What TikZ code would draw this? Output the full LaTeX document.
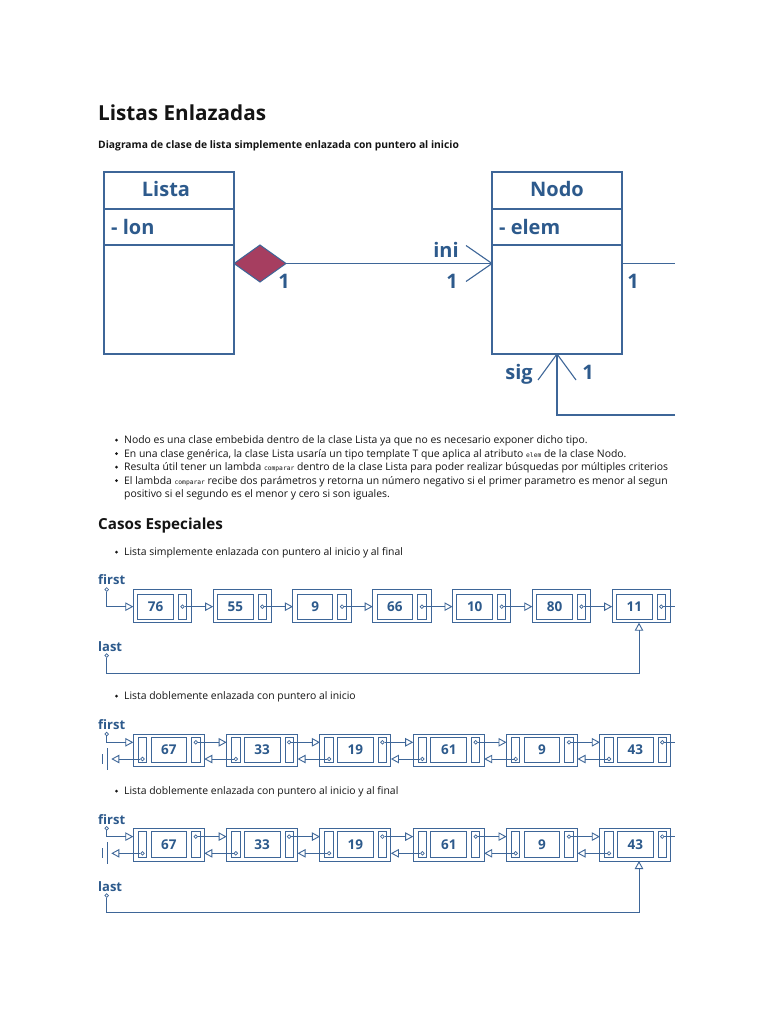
\documentclass[tikz,border=0pt]{standalone}
\usepackage{fontspec}
\setmainfont{Open Sans}
\setmonofont{DejaVu Sans Mono}
\usetikzlibrary{shapes.geometric,arrows.meta,calc}
\definecolor{dblue}{RGB}{45,90,140}
\definecolor{lblue}{RGB}{62,102,152}
\definecolor{dfill}{RGB}{166,62,96}
\definecolor{ink}{RGB}{20,20,20}
\newcommand\codetxt[1]{{\fontsize{6.3}{7}\selectfont\ttfamily #1}}
\newcommand\mysnode[4]{%
 \node[lbox,minimum width=58.4pt,minimum height=33.7pt,anchor=north west] (#1) at (#2,#3) {};
 \node[lbox,numtxt,minimum width=35.6pt,minimum height=24.7pt,anchor=north west] (#1v) at ([shift={(4.4,5.3)}]#1.north west) {#4};
 \node[lbox,minimum width=8.4pt,minimum height=24.7pt,anchor=north west] (#1p) at ([shift={(45,5.3)}]#1.north west) {};
 \node[dot] (d#1) at (#1p.center) {};
}
\newcommand\mydnode[4]{%
 \node[lbox,minimum width=71pt,minimum height=32.7pt,anchor=north west] (#1) at (#2,#3) {};
 \node[lbox,minimum width=8.4pt,minimum height=25.4pt,anchor=north west] (#1l) at ([shift={(5,3.3)}]#1.north west) {};
 \node[lbox,numtxt,minimum width=35.7pt,minimum height=25.4pt,anchor=north west] (#1v) at ([shift={(17.7,3.3)}]#1.north west) {#4};
 \node[lbox,minimum width=8.3pt,minimum height=25.4pt,anchor=north west] (#1r) at ([shift={(58.4,3.3)}]#1.north west) {};
 \node[dot] (#1rd) at ([shift={(62.5,8.3)}]#1.north west) {};
 \node[dot] (#1ld) at ([shift={(9.2,25)}]#1.north west) {};
}
\begin{document}
\begin{tikzpicture}[x=1pt,y=-1pt,
 lbox/.style={draw=lblue,line width=0.9pt,inner sep=0pt,outer sep=0pt},
 uml/.style={draw=lblue,line width=1.1pt,inner sep=0pt,outer sep=0pt},
 umltxt/.style={text=dblue,font=\fontsize{20}{24}\selectfont\bfseries,inner sep=0pt},
 numtxt/.style={text=dblue,font=\fontsize{13.5}{16}\selectfont\bfseries},
 ptrlbl/.style={text=dblue,font=\fontsize{13}{15}\selectfont\bfseries,inner sep=0pt,anchor=base west},
 body/.style={text=ink,font=\fontsize{10.4}{12}\selectfont,inner sep=0pt,anchor=base west},
 dot/.style={circle,draw=lblue,line width=0.7pt,inner sep=0pt,minimum size=3.6pt,fill=white},
 link/.style={draw=lblue,line width=0.9pt},
 ptr/.style={link,-{Triangle[open,length=8pt,width=8.5pt,line width=0.9pt]}},
]
\useasboundingbox[fill=white] (0,0) rectangle (768,1024);

% title
\node[anchor=base west,inner sep=0pt,text=ink,font=\fontsize{20.7}{24}\selectfont\bfseries] (title) at (98,121) {Listas Enlazadas};
\node[body,font=\fontsize{10.3}{12}\selectfont\bfseries] (sub) at (98,149) {Diagrama de clase de lista simplemente enlazada con puntero al inicio};

% UML
\node[uml,minimum width=130pt,minimum height=182pt,anchor=north west] (lista) at (104,172) {};
\draw[uml] ([yshift=-37pt]lista.north west) -- ([yshift=-37pt]lista.north east);
\draw[uml] ([yshift=-73pt]lista.north west) -- ([yshift=-73pt]lista.north east);
\node[umltxt,anchor=base] (listaname) at (166,197) {Lista};
\node[umltxt,anchor=base west] (lon) at (111,234) {- lon};

\node[uml,minimum width=130pt,minimum height=182pt,anchor=north west] (nodo) at (492,172) {};
\draw[uml] ([yshift=-37pt]nodo.north west) -- ([yshift=-37pt]nodo.north east);
\draw[uml] ([yshift=-73pt]nodo.north west) -- ([yshift=-73pt]nodo.north east);
\node[umltxt,anchor=base] (nodoname) at (557,197) {Nodo};
\node[umltxt,anchor=base west] (elem) at (499,234) {- elem};

\node[diamond,draw=lblue,line width=1pt,fill=dfill,minimum width=52pt,minimum height=37pt,inner sep=0pt,outer sep=0pt,anchor=west] (dia) at (234,263.5) {};
\coordinate (iniend) at (dia.east -| nodo.west);
\draw[uml] (dia.east) -- (iniend);
\draw[uml] ([shift={(-26,-18)}]iniend) -- (iniend) -- ([shift={(-26,18)}]iniend);

\coordinate (rend) at (675,263.5);
\draw[uml] (rend -| nodo.east) -- (rend);

\coordinate (send) at (675,415);
\draw[uml] (send) -| (nodo.south);
\draw[uml] ([shift={(-19,26)}]nodo.south) -- (nodo.south) -- ([shift={(19,26)}]nodo.south);

\node[umltxt,anchor=base] (ini) at (446,257) {ini};
\node[umltxt,anchor=base] (m1) at (284,288) {1};
\node[umltxt,anchor=base] (m2) at (452,288) {1};
\node[umltxt,anchor=base] (m3) at (633,288) {1};
\node[umltxt,anchor=base] (sig) at (519,379) {sig};
\node[umltxt,anchor=base] (m4) at (588,379) {1};

% bullets
\fill[ink] (116.5,440) circle (1.5);
\fill[ink] (116.5,453.5) circle (1.5);
\fill[ink] (116.5,467) circle (1.5);
\fill[ink] (116.5,480.5) circle (1.5);
\node[body] (b1t) at (124,443.5) {Nodo es una clase embebida dentro de la clase Lista ya que no es necesario exponer dicho tipo.};
\node[body] (b2t) at (124,457) {En una clase genérica, la clase Lista usaría un tipo template T que aplica al atributo \codetxt{elem} de la clase Nodo.};
\node[body] (b3t) at (124,470.5) {Resulta útil tener un lambda \codetxt{comparar} dentro de la clase Lista para poder realizar búsquedas por múltiples criterios};
\node[body] (b4t) at (124,484) {El lambda \codetxt{comparar} recibe dos parámetros y retorna un número negativo si el primer parametro es menor al segun};
\node[body] (b5t) at (124,497.5) {positivo si el segundo es el menor y cero si son iguales.};

\node[anchor=base west,inner sep=0pt,text=ink,font=\fontsize{15.2}{17}\selectfont\bfseries] (casos) at (98,529) {Casos Especiales};

\fill[ink] (116.5,552) circle (1.5);
\node[body] (c1t) at (124,555.5) {Lista simplemente enlazada con puntero al inicio y al final};
\fill[ink] (116.5,696) circle (1.5);
\node[body] (c2t) at (124,699.5) {Lista doblemente enlazada con puntero al inicio};
\fill[ink] (116.5,791) circle (1.5);
\node[body] (c3t) at (124,794.5) {Lista doblemente enlazada con puntero al inicio y al final};

\coordinate (xend) at (675,0);

% list 1
\foreach \v [count=\i] in {76,55,9,66,10,80,11} {\mysnode{a\i}{133.3+79.8*\i-79.8}{589}{\v}}
\foreach \i [evaluate=\i as \j using int(\i+1)] in {1,...,6} {\draw[ptr] (da\i.east) -- (da\i.east -| a\j.west);}
\draw[link] (da7.east) -- (da7.east -| xend);
\node[ptrlbl] (f1) at (98,584) {first};
\node[dot] (f1c) at (106.7,589.5) {};
\draw[ptr] (f1c.south) |- (a1.west |- da1);
\node[ptrlbl] (l1) at (98,651) {last};
\node[dot] (l1c) at (106.7,655.5) {};
\coordinate (l1k) at (639,673.3);
\draw[ptr] (l1c.south) |- (l1k) -- (l1k |- a7.south);

% list 2
\foreach \v [count=\i] in {67,33,19,61,9,43} {\mydnode{b\i}{133.3+93.3*\i-93.3}{734}{\v}}
\foreach \i [evaluate=\i as \j using int(\i+1)] in {1,...,5} {
  \draw[ptr] (b\i rd.east) -- (b\i rd.east -| b\j.west);
  \draw[ptr] (b\j ld.west) -- (b\j ld.west -| b\i.east);
}
\draw[link] (b6rd.east) -- (b6rd.east -| xend);
\node[ptrlbl] (f2) at (98,729) {first};
\node[dot] (f2c) at (106.7,734) {};
\draw[ptr] (f2c.south) |- (b1.west |- b1rd);
\coordinate (g2) at ([xshift=-22pt]b1.west |- b1ld);
\draw[ptr] (b1ld.west) -- (g2);
\draw[link] ([shift={(-4,-11)}]g2) -- ([shift={(-4,11)}]g2);
\draw[link] ([shift={(-8.5,-5)}]g2) -- ([shift={(-8.5,5)}]g2);

% list 3
\foreach \v [count=\i] in {67,33,19,61,9,43} {\mydnode{c\i}{133.3+93.3*\i-93.3}{828.3}{\v}}
\foreach \i [evaluate=\i as \j using int(\i+1)] in {1,...,5} {
  \draw[ptr] (c\i rd.east) -- (c\i rd.east -| c\j.west);
  \draw[ptr] (c\j ld.west) -- (c\j ld.west -| c\i.east);
}
\draw[link] (c6rd.east) -- (c6rd.east -| xend);
\node[ptrlbl] (f3) at (98,824) {first};
\node[dot] (f3c) at (106.7,828.3) {};
\draw[ptr] (f3c.south) |- (c1.west |- c1rd);
\coordinate (g3) at ([xshift=-22pt]c1.west |- c1ld);
\draw[ptr] (c1ld.west) -- (g3);
\draw[link] ([shift={(-4,-11)}]g3) -- ([shift={(-4,11)}]g3);
\draw[link] ([shift={(-8.5,-5)}]g3) -- ([shift={(-8.5,5)}]g3);
\node[ptrlbl] (l3) at (98,891) {last};
\node[dot] (l3c) at (106.7,895.5) {};
\coordinate (l3k) at (639,912.3);
\draw[ptr] (l3c.south) |- (l3k) -- (l3k |- c6.south);
\end{tikzpicture}
\end{document}
